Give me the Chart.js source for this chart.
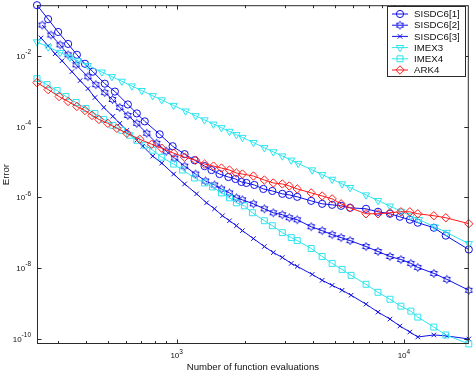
<!DOCTYPE html>
<html>
<head>
<meta charset="utf-8">
<script src="https://cdn.jsdelivr.net/npm/chart.js@4.4.1/dist/chart.umd.min.js"></script>
<style>
  html, body { margin: 0; padding: 0; background: #fff; }
</style>
</head>
<body>
<canvas id="graficoError" width="474" height="372"></canvas>
<script>
const seriesNames = ['SISDC6[1]', 'SISDC6[2]', 'SISDC6[3]', 'IMEX3', 'IMEX4', 'ARK4'];

const sisdc1X = [243, 272, 301, 333, 364, 395, 428, 483, 535, 610, 668, 724, 842, 960, 1084, 1199, 1327, 1424, 1544, 1690, 1815, 1928, 2028, 2198, 2408, 2636, 2917, 3131, 3394, 3908, 4368, 4833, 5292, 5797, 6813, 7692, 8684, 9600, 10620, 11510, 13540, 15290, 19300];
const sisdc1Y = [0.27, 0.109, 0.0472, 0.0217, 0.0107, 5.96e-3, 3.56e-3, 1.63e-3, 9.75e-4, 4.21e-4, 2.35e-4, 1.40e-4, 6.04e-5, 2.78e-5, 1.66e-5, 1.12e-5, 7.62e-6, 5.89e-6, 4.54e-6, 3.74e-6, 3.29e-6, 2.71e-6, 2.54e-6, 2.23e-6, 1.72e-6, 1.51e-6, 1.25e-6, 1.17e-6, 1.03e-6, 7.92e-7, 6.53e-7, 6.12e-7, 5.73e-7, 5.04e-7, 4.72e-7, 3.89e-7, 3.42e-7, 2.81e-7, 2.32e-7, 1.91e-7, 1.38e-7, 8.24e-8, 3.33e-8];

const sisdc2X = [256, 280, 307, 333, 361, 407, 441, 483, 522, 562, 610, 668, 739, 817, 900, 980, 1084, 1212, 1340, 1468, 1575, 1708, 1833, 1947, 2177, 2432, 2663, 2917, 3131, 3394, 3908, 4368, 4833, 5292, 5797, 6813, 7692, 8684, 9700, 10730, 11510, 13540, 15450, 19300];
const sisdc2Y = [0.0743, 0.0389, 0.0204, 0.0107, 5.58e-3, 2.57e-3, 1.53e-3, 9.14e-4, 5.81e-4, 3.46e-4, 2.06e-4, 1.23e-4, 6.44e-5, 3.37e-5, 2.01e-5, 1.28e-5, 7.62e-6, 4.54e-6, 2.89e-6, 2.23e-6, 1.72e-6, 1.33e-6, 9.62e-7, 8.45e-7, 6.53e-7, 4.72e-7, 3.65e-7, 3.21e-7, 2.64e-7, 2.32e-7, 1.47e-7, 1.14e-7, 8.79e-8, 7.24e-8, 5.96e-8, 4.05e-8, 2.93e-8, 2.12e-8, 1.74e-8, 1.35e-8, 1.04e-8, 7.05e-9, 4.79e-9, 2.35e-9];

const sisdc3X = [253, 272, 292, 313, 346, 376, 407, 437, 478, 524, 562, 604, 668, 710, 785, 860, 970, 1084, 1224, 1354, 1468, 1591, 1708, 1833, 1947, 2177, 2432, 2663, 2917, 3193, 3394, 3948, 4368, 4833, 5346, 5855, 6813, 7692, 8684, 9600, 10620, 11510, 13540, 15450, 19300];
const sisdc3Y = [0.0321, 0.0191, 0.0114, 7.24e-3, 3.56e-3, 1.99e-3, 1.18e-3, 6.61e-4, 3.46e-4, 1.94e-4, 1.23e-4, 7.82e-5, 4.09e-5, 2.78e-5, 1.46e-5, 9.25e-6, 4.54e-6, 2.38e-6, 1.25e-6, 6.97e-7, 4.72e-7, 3.01e-7, 2.17e-7, 1.57e-7, 1.14e-7, 6.78e-8, 4.05e-8, 2.74e-8, 1.99e-8, 1.35e-8, 1.11e-8, 6.61e-9, 4.49e-9, 3.24e-9, 2.35e-9, 1.70e-9, 9.50e-10, 5.66e-10, 3.60e-10, 2.29e-10, 1.55e-10, 1.12e-10, 1.28e-10, 1.20e-10, 9.86e-11];

const imex3X = [243, 272, 307, 339, 368, 407, 469, 519, 574, 635, 702, 785, 860, 970, 1095, 1212, 1327, 1453, 1575, 1708, 1833, 1947, 2177, 2432, 2663, 2917, 3193, 3428, 3948, 4368, 4833, 5346, 5797, 6813, 7692, 8684, 9700, 10730, 11640, 13680, 15450, 19300];
const imex3Y = [0.0247, 0.0178, 0.0124, 9.14e-3, 7.19e-3, 5.31e-3, 3.46e-3, 2.57e-3, 1.90e-3, 1.40e-3, 1.04e-3, 7.43e-4, 5.66e-4, 3.94e-4, 2.74e-4, 2.02e-4, 1.54e-4, 1.17e-4, 9.25e-5, 7.28e-5, 5.89e-5, 4.91e-5, 3.53e-5, 2.52e-5, 1.92e-5, 1.47e-5, 1.12e-5, 9.02e-6, 5.92e-6, 4.36e-6, 3.22e-6, 2.39e-6, 1.88e-6, 1.16e-6, 8.07e-7, 5.62e-7, 4.02e-7, 2.99e-7, 2.33e-7, 1.45e-7, 1.01e-7, 4.88e-8];

const imex4X = [243, 269, 298, 326, 361, 399, 437, 478, 524, 574, 622, 668, 724, 785, 860, 970, 1062, 1199, 1327, 1439, 1575, 1708, 1833, 1987, 2154, 2432, 2636, 2917, 3193, 3394, 3908, 4368, 4833, 5346, 5855, 6813, 7692, 8684, 9700, 10730, 11510, 13540, 15290, 19300];
const imex4Y = [2.26e-3, 1.53e-3, 1.04e-3, 7.05e-4, 4.79e-4, 3.24e-4, 2.35e-4, 1.59e-4, 1.08e-4, 7.82e-5, 5.66e-5, 4.09e-5, 2.96e-5, 2.14e-5, 1.36e-5, 8.67e-6, 5.89e-6, 3.51e-6, 2.54e-6, 1.96e-6, 1.33e-6, 9.62e-7, 6.97e-7, 5.73e-7, 3.65e-7, 2.17e-7, 1.57e-7, 1.00e-7, 7.24e-8, 5.96e-8, 3.56e-8, 2.12e-8, 1.35e-8, 9.14e-9, 6.20e-9, 3.46e-9, 2.06e-9, 1.31e-9, 8.34e-10, 6.04e-10, 4.09e-10, 2.14e-10, 1.28e-10, 7.14e-11];

const ark4X = [243, 272, 304, 333, 364, 395, 424, 455, 498, 546, 604, 688, 777, 860, 970, 1084, 1212, 1327, 1453, 1575, 1708, 1833, 1947, 2177, 2432, 2663, 2917, 3131, 3394, 3908, 4368, 4833, 5292, 5797, 6813, 7692, 8684, 9700, 10620, 11510, 13540, 15290, 19300];
const ark4Y = [1.75e-3, 1.11e-3, 7.05e-4, 5.11e-4, 3.69e-4, 2.85e-4, 2.06e-4, 1.59e-4, 1.23e-4, 8.89e-5, 6.44e-5, 4.37e-5, 3.16e-5, 2.44e-5, 1.77e-5, 1.36e-5, 1.12e-5, 8.67e-6, 7.62e-6, 6.70e-6, 5.89e-6, 4.85e-6, 4.54e-6, 3.99e-6, 3.08e-6, 2.54e-6, 2.38e-6, 2.09e-6, 1.72e-6, 1.33e-6, 1.09e-6, 9.02e-7, 6.53e-7, 5.04e-7, 3.42e-7, 3.42e-7, 3.65e-7, 3.89e-7, 3.89e-7, 3.42e-7, 3.01e-7, 2.64e-7, 1.79e-7];

const xLimits = [243, 19300];
const yLimits = [7.1e-11, 0.27];
const xMajorTicks = [1000, 10000];
const xMinorTicks = [300, 400, 500, 600, 700, 800, 900, 2000, 3000, 4000, 5000, 6000, 7000, 8000, 9000];
const yMajorTicks = [1e-10, 1e-8, 1e-6, 1e-4, 1e-2];

const FONT = '"Liberation Sans", Arial, Helvetica, sans-serif';
const BLUE = '#1010e8';
const CYAN = '#2ee4f0';
const RED = '#ff1a1a';

// estrella de seis puntas (hexagram de matlab)
function hexagram(color, r) {
  const c = document.createElement('canvas');
  const s = Math.ceil(r * 2 + 3);
  c.width = s; c.height = s;
  const g = c.getContext('2d');
  g.strokeStyle = color;
  g.lineWidth = 1;
  g.beginPath();
  for (let k = 0; k < 12; k++) {
    const a = -Math.PI / 2 + k * Math.PI / 6;
    const rr = k % 2 ? r * 0.58 : r;
    const px = s / 2 + rr * Math.cos(a), py = s / 2 + rr * Math.sin(a);
    if (k) g.lineTo(px, py); else g.moveTo(px, py);
  }
  g.closePath();
  g.stroke();
  return c;
}

const pts = (xs, ys) => xs.map((x, i) => ({ x, y: ys[i] }));

const styles = [
  { color: BLUE, pointStyle: 'circle', radius: 3.6, rotation: 0 },
  { color: BLUE, pointStyle: hexagram(BLUE, 4), radius: 4, rotation: 0 },
  { color: BLUE, pointStyle: 'crossRot', radius: 3.2, rotation: 0 },
  { color: CYAN, pointStyle: 'triangle', radius: 4.2, rotation: 180 },
  { color: CYAN, pointStyle: 'rect', radius: 4.2, rotation: 0 },
  { color: RED, pointStyle: 'rectRot', radius: 4.2, rotation: 0 }
];

const allData = [
  pts(sisdc1X, sisdc1Y), pts(sisdc2X, sisdc2Y), pts(sisdc3X, sisdc3Y),
  pts(imex3X, imex3Y), pts(imex4X, imex4Y), pts(ark4X, ark4Y)
];

const datasets = seriesNames.map((name, i) => ({
  label: name,
  data: allData[i],
  borderColor: styles[i].color,
  backgroundColor: 'rgba(0,0,0,0)',
  borderWidth: 1,
  pointStyle: styles[i].pointStyle,
  pointRadius: styles[i].radius,
  pointRotation: styles[i].rotation,
  pointBorderWidth: 1,
  pointBorderColor: styles[i].color,
  pointBackgroundColor: 'rgba(0,0,0,0)',
  tension: 0,
  clip: false,
  order: seriesNames.length - i
}));

function expLabel(v) {
  return String(Math.round(Math.log10(v)));
}

const axesPlugin = {
  id: 'matlabAxes',
  afterDatasetsDraw(chart) {
    const { ctx, chartArea: a } = chart;
    const xs = chart.scales.x, ys = chart.scales.y;
    ctx.save();
    ctx.strokeStyle = '#2a2a2a';
    ctx.lineWidth = 1;
    ctx.strokeRect(a.left + 0.5, a.top + 0.5, a.right - a.left - 1, a.bottom - a.top - 1);

    ctx.beginPath();
    const xtick = (v, len) => {
      const px = Math.round(xs.getPixelForValue(v)) + 0.5;
      ctx.moveTo(px, a.bottom); ctx.lineTo(px, a.bottom - len);
      ctx.moveTo(px, a.top); ctx.lineTo(px, a.top + len);
    };
    xMajorTicks.forEach(v => xtick(v, 4.5));
    xMinorTicks.forEach(v => xtick(v, 3));
    yMajorTicks.forEach(v => {
      const py = Math.round(ys.getPixelForValue(v)) + 0.5;
      ctx.moveTo(a.left, py); ctx.lineTo(a.left + 4.5, py);
      ctx.moveTo(a.right, py); ctx.lineTo(a.right - 4.5, py);
    });
    ctx.stroke();

    // etiquetas 10^n
    ctx.fillStyle = '#111';
    const baseFont = '8px ' + FONT, expFont = '6.5px ' + FONT;
    yMajorTicks.forEach(v => {
      const py = ys.getPixelForValue(v);
      const e = expLabel(v);
      ctx.font = expFont; const we = ctx.measureText(e).width;
      ctx.font = baseFont; const wb = ctx.measureText('10').width;
      const right = a.left - 6;
      ctx.textAlign = 'left'; ctx.textBaseline = 'alphabetic';
      ctx.fillText('10', right - we - wb, py + 3.2);
      ctx.font = expFont;
      ctx.fillText(e, right - we, py - 1.6);
    });
    xMajorTicks.forEach(v => {
      const px = xs.getPixelForValue(v);
      const e = expLabel(v);
      ctx.font = expFont; const we = ctx.measureText(e).width;
      ctx.font = baseFont; const wb = ctx.measureText('10').width;
      const start = px - (wb + we) / 2;
      ctx.textAlign = 'left'; ctx.textBaseline = 'alphabetic';
      ctx.fillText('10', start, a.bottom + 14);
      ctx.font = expFont;
      ctx.fillText(e, start + wb, a.bottom + 10);
    });

    ctx.font = '9.6px ' + FONT;
    ctx.textAlign = 'center';
    ctx.textBaseline = 'alphabetic';
    ctx.fillText('Number of function evaluations', (a.left + a.right) / 2, a.bottom + 26);
    ctx.translate(8.5, (a.top + a.bottom) / 2);
    ctx.rotate(-Math.PI / 2);
    ctx.fillText('Error', 0, 0);
    ctx.restore();
  }
};

const legendPlugin = {
  id: 'boxLegend',
  afterDraw(chart) {
    const { ctx } = chart;
    const box = { left: 387.5, top: 6.5, width: 78, height: 70 };
    ctx.save();
    ctx.fillStyle = '#fff';
    ctx.fillRect(box.left, box.top, box.width, box.height);
    ctx.strokeStyle = '#2a2a2a';
    ctx.lineWidth = 1;
    ctx.strokeRect(box.left, box.top, box.width, box.height);
    ctx.font = '9.7px ' + FONT;
    ctx.textBaseline = 'middle';
    ctx.textAlign = 'left';
    chart.data.datasets.forEach((ds, i) => {
      const y = 14 + i * 11.2;
      ctx.strokeStyle = ds.borderColor;
      ctx.lineWidth = 1;
      ctx.beginPath();
      ctx.moveTo(392, y); ctx.lineTo(408, y);
      ctx.stroke();
      ctx.fillStyle = 'rgba(0,0,0,0)';
      Chart.helpers.drawPoint(ctx, {
        pointStyle: ds.pointStyle, radius: ds.pointRadius,
        rotation: ds.pointRotation, borderWidth: 1
      }, 400, y);
      ctx.fillStyle = '#111';
      ctx.fillText(ds.label, 414, y + 0.5);
    });
    ctx.restore();
  }
};

new Chart(document.getElementById('graficoError').getContext('2d'), {
  type: 'line',
  data: { datasets },
  options: {
    responsive: false,
    animation: false,
    devicePixelRatio: 1,
    layout: { padding: { left: 37, right: 3, top: 3, bottom: 28 } },
    scales: {
      x: { type: 'logarithmic', min: xLimits[0], max: xLimits[1], display: false },
      y: { type: 'logarithmic', min: yLimits[0], max: yLimits[1], display: false }
    },
    plugins: {
      legend: { display: false },
      tooltip: { enabled: false }
    }
  },
  plugins: [axesPlugin, legendPlugin]
});
</script>
</body>
</html>
